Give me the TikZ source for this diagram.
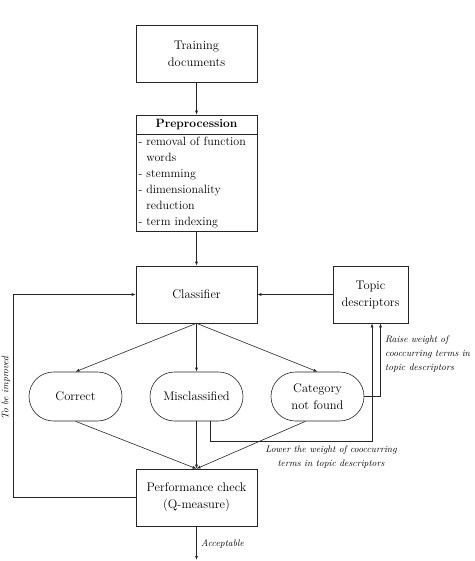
\documentclass[tikz,border=0pt]{standalone}
\usetikzlibrary{arrows.meta,calc}
\begin{document}
\tikzset{
 box/.style={draw=black!85, line width=0.6pt, minimum width=121pt, minimum height=57pt, align=center, font=\fontsize{12.5}{17}\selectfont, inner sep=2pt},
 pill/.style={draw=black!85, line width=0.6pt, rounded corners=24.5pt, minimum width=93pt, minimum height=49pt, align=center, font=\fontsize{12.5}{17}\selectfont, inner sep=2pt},
 conn/.style={line width=0.6pt, draw=black!85},
 arr/.style={conn, -{Latex[length=4pt,width=3pt]}},
 lbl/.style={font=\fontsize{9.5}{14}\selectfont\itshape, inner sep=0pt},
}
\begin{tikzpicture}[x=1pt,y=-1pt]
\useasboundingbox (0,0) rectangle (474,561);
\node[box] (train) at (196.5,53.5) {Training\\documents};
\node[box, minimum height=19pt, font=\fontsize{12}{14}\selectfont\bfseries] (prephead) at (196.5,124.5) {Preprocession};
\node[draw=black!85, line width=0.6pt, minimum width=121pt, minimum height=97pt, anchor=north, text width=116pt, align=left, font=\fontsize{12}{16}\selectfont, inner xsep=2.5pt, inner ysep=1pt] (prepbody) at (196.5,134) {- removal of function\\\phantom{- }words\\- stemming\\- dimensionality\\\phantom{- }reduction\\- term indexing};
\node[box] (classifier) at (196.5,294.5) {Classifier};
\node[box, minimum width=75pt] (topic) at (370.5,294.5) {Topic\\descriptors};
\node[pill] (correct) at (75.5,396.5) {Correct};
\node[pill] (misc) at (196.5,396.5) {Misclassified};
\node[pill] (catnf) at (317.5,396.5) {Category\\not found};
\node[box] (perf) at (196.5,497.5) {Performance check\\(Q-measure)};

\draw[arr] (train) -- (prephead);
\draw[arr] (prepbody) -- (classifier);
\draw[arr] (topic) -- (classifier);
\coordinate (fbl) at (13,497.5);
\coordinate (ful) at (13,294.5);
\draw[arr] (perf.west) -- (fbl) -- (ful) -- (classifier.west);
\draw[arr] (classifier.south) -- (correct.north);
\draw[arr] (classifier.south) -- (misc.north);
\draw[arr] (classifier.south) -- (catnf.north);
\draw[arr] (correct.south) -- (perf.north);
\draw[arr] (misc.south) -- (perf.north);
\draw[arr] ($(catnf.south)+(-12,0)$) -- (perf.north);
\coordinate (m1) at ($(misc.south)+(14,0)$);
\draw[arr] (m1) -- ++(0,20) -| ($(topic.south)+(1.5,0)$);
\draw[arr] (catnf.east) -| ($(topic.south)+(10,0)$);
\coordinate (endp) at (196.5,560);
\draw[arr] (perf.south) -- (endp);

\node[lbl, anchor=north west, align=left] (raise) at (385,336) {Raise weight of\\cooccurring terms in\\topic descriptors};
\node[lbl, align=center] (lower) at (331,457) {Lower the weight of cooccurring\\terms in topic descriptors};
\node[lbl, rotate=90] (improve) at (6,388) {To be improved};
\node[lbl, anchor=west] (accept) at (201,544) {Acceptable};
\end{tikzpicture}
\end{document}
